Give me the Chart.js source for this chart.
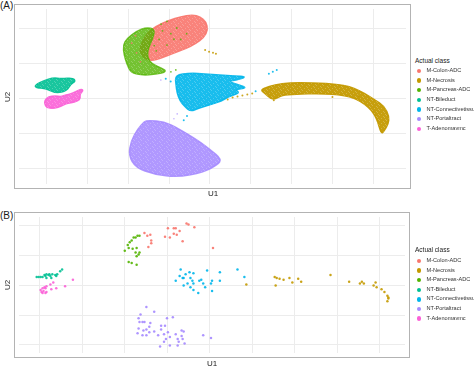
<!DOCTYPE html>
<html><head><meta charset="utf-8">
<script src="https://cdn.jsdelivr.net/npm/chart.js@4.4.0/dist/chart.umd.min.js"></script>
<style>
html,body{margin:0;padding:0;background:#fff;}
body{width:474px;height:366px;position:relative;overflow:hidden;font-family:"Liberation Sans",Arial,sans-serif;}
.wrap{position:absolute;}
.frame{position:absolute;border:1px solid #b3b3b3;box-sizing:border-box;pointer-events:none;}
.lbl{position:absolute;color:#1a1a1a;white-space:nowrap;line-height:1;}
.leg{position:absolute;white-space:nowrap;line-height:1;color:#333;}
.dot{position:absolute;border-radius:50%;}
</style></head><body>
<script>
// ---------- categories & colours ----------
const classes = ['M-Colon-ADC','M-Necrosis','M-Pancreas-ADC','NT-Bileduct','NT-Connectivetissue-','NT-Portaltract','T-Adenomavmc'];
const classColors = ['#F8766D','#C49A00','#53B400','#00C094','#00B6EB','#A58AFF','#FB61D7'];
const legendTitle = 'Actual class';
const axisX = 'U1', axisY = 'U2';

// ---------- Panel A: dense UMAP clouds (outlines of each cloud) ----------
const aColonOutline = [[1.63,7.84],[2.23,9.19],[3.43,10.27],[4.99,11.08],[6.43,11.62],[7.87,11.9],[8.82,11.6],[9.54,10.9],[9.76,9.73],[9.28,8.65],[8.23,7.74],[7.03,7.06],[5.47,6.38],[4.03,5.71],[2.83,5.30],[1.87,5.71],[1.39,6.76]];
const aPancreasOutline = [[-0.15,8.51],[1.03,9.56],[2.23,10.1],[3.27,9.83],[3.03,8.51],[2.45,7.16],[2.33,5.81],[2.93,4.86],[4.13,4.32],[4.73,3.78],[3.43,3.41],[1.63,3.28],[0.33,3.68],[-0.15,4.86],[-0.51,6.21],[-0.63,7.57]];
const aConnectiveOutline = [[5.73,3.34],[7.63,3.61],[9.42,3.48],[11.22,3.34],[13.02,3.21],[14.56,3.07],[13.14,2.57],[12.18,2.43],[13.62,1.89],[14.56,1.49],[13.02,1.22],[13.72,0.81],[12.18,0.17],[11.46,-0.37],[10.02,-0.91],[8.58,-1.45],[7.63,-1.86],[6.93,-1.18],[6.33,-0.37],[5.97,0.81],[5.85,1.89]];
const aNecrosisOutline = [[16.16,1.22],[17.22,1.72],[18.78,2.13],[20.81,2.26],[24.41,2.13],[26.45,1.86],[27.65,1.45],[28.85,0.78],[30.15,-0.17],[31.35,-1.12],[31.95,-2.57],[31.83,-3.65],[31.35,-4.56],[31.01,-5.06],[30.67,-3.92],[30.43,-2.97],[29.83,-1.72],[28.87,-0.78],[27.91,-0.1],[26.45,0.44],[23.57,0.71],[20.45,0.58],[18.78,0.44],[18.06,-0.1],[17.46,-0.1],[16.76,0.68]];
const aPortalOutline = [[1.99,-3.28],[2.47,-3.14],[4.39,-3.28],[6.07,-4.22],[8.56,-5.98],[10.12,-7.33],[11.42,-8.65],[10.96,-9.42],[9.18,-10.50],[6.07,-11.2],[3.19,-10.8],[0.93,-9.83],[0.05,-8.11],[0.33,-6.08],[1.17,-4.32]];
const aBileductOutline = [[-11.42,1.89],[-10.36,2.53],[-9.16,2.94],[-8.20,2.80],[-6.76,2.94],[-6.42,2.43],[-7.02,2.03],[-7.50,1.08],[-8.80,0.71],[-10.00,1.39],[-11.30,1.52]];
const aAdenomaOutline = [[-10.22,-0.27],[-9.76,0.24],[-8.92,0.37],[-8.20,0.24],[-7.60,0.51],[-7.00,0.64],[-6.52,0.91],[-5.80,1.32],[-5.46,1.18],[-5.94,0.54],[-5.82,0],[-6.16,-0.37],[-7.00,-0.64],[-7.72,-0.78],[-8.20,-1.18],[-9.16,-1.45],[-9.98,-1.32],[-10.22,-0.81]];
// scattered cells outside / inside the main clouds
const aPancreasCells = [[4.03,10.54],[4.75,10.94],[5.23,9.19],[5.95,10.0],[3.79,8.38],[4.75,7.57],[6.43,8.38],[7.15,9.19],[3.43,6.76],[5.83,4.05],[5.23,3.78],[3.2,7.5],[4.2,9.6],[5.6,8.4]];
const aColonCells = [[0.43,7.84],[1.03,6.48],[0.9,8.9],[1.5,5.2]];
const aNecrosisCells = [[9.42,6.89],[9.90,6.62],[10.38,6.48],[10.74,6.35],[12.18,-0.14],[12.78,0.14],[13.38,0.27],[13.98,0.41],[14.58,0.54],[15.18,0.68],[17.82,-0.27],[28.2,0.3],[25.0,0.2]];
const aConnectiveCells = [[17.22,3.51],[17.70,3.78],[18.18,4.05],[4.6,2.8],[5.2,2.4],[15.6,1.0],[7.2,-2.5],[6.8,-3.1]];
const aPortalCells = [[4.0,2.6],[6.0,-2.2],[5.6,-2.9]];

// ---------- Panel B: individual samples ----------
const bColon = [[7.28,10.41],[7.51,10.25],[8.20,9.78],[5.09,9.62],[5.78,9.62],[6.01,9.62],[4.75,8.20],[5.32,8.04],[5.78,8.67],[6.47,9.15],[6.13,8.52],[6.82,7.41],[10.39,6.31],[2.33,8.83],[3.02,8.52],[2.67,8.36],[3.13,7.57],[3.13,7.10],[2.79,6.47]];
const bNecrosis = [[14.31,0.16],[17.65,1.42],[17.88,1.26],[18.22,1.10],[18.69,0.95],[19.38,1.26],[19.72,0.47],[17.76,0],[20.41,1.10],[20.76,0.63],[24.21,1.73],[26.40,0.63],[27.67,0.32],[27.90,0.63],[28.13,0.32],[29.28,0],[29.51,0.47],[29.63,-0.32],[30.21,-0.63],[30.55,-1.10],[30.90,-1.73],[31.01,-2.21],[30.90,-2.68],[31.01,-2.05]];
const bPancreas = [[1.52,8.36],[1.75,8.36],[1.29,8.04],[1.06,8.04],[0.83,7.57],[0.60,7.25],[0.37,6.78],[0.02,5.83],[0.48,6.31],[0.94,6.15],[1.41,6.31],[1.29,5.52],[1.64,5.20],[1.75,5.52],[1.41,4.89],[0.48,3.94],[0.83,3.78],[1.41,3.47]];
const bBileduct = [[-10.34,1.42],[-10.11,1.42],[-9.88,1.42],[-9.65,1.42],[-9.31,1.58],[-9.19,1.89],[-8.96,1.73],[-8.73,1.58],[-8.50,1.89],[-8.16,1.73],[-8.04,1.58],[-7.93,1.89],[-7.58,2.37],[-7.35,2.68],[-8.62,1.26],[-9.19,1.26],[-9.42,1.73],[-8.85,1.89]];
const bConnective = [[6.59,2.68],[6.01,0.79],[6.47,1.58],[6.94,1.26],[7.17,1.89],[7.63,2.21],[8.09,2.05],[7.74,1.26],[7.97,0.79],[6.94,0],[7.40,0.32],[7.74,-0.32],[8.09,-0.79],[8.66,-1.26],[8.78,0.79],[9.01,0.95],[9.24,0.32],[9.47,-0.32],[9.70,2.52],[10.28,0.79],[10.16,0.32],[10.28,-0.95],[11.20,2.21],[11.20,0.79],[13.27,2.68],[14.08,1.42],[8.09,0.32],[6.82,1.26]];
const bPortal = [[2.56,-3.63],[3.48,-4.42],[1.87,-4.89],[1.64,-5.52],[2.10,-6.15],[1.75,-6.15],[2.33,-6.15],[3.02,-6.31],[2.90,-6.94],[1.64,-7.25],[2.21,-7.57],[2.56,-7.41],[2.10,-8.36],[2.56,-8.36],[2.90,-7.89],[1.52,-8.04],[4.29,-6.78],[4.75,-6.78],[4.98,-5.52],[5.67,-5.36],[4.29,-7.41],[4.63,-8.20],[5.09,-7.89],[5.32,-8.67],[4.86,-8.99],[4.63,-9.46],[4.17,-10.25],[5.32,-10.09],[6.01,-8.20],[6.24,-8.99],[6.36,-9.46],[6.70,-8.52],[6.94,-7.73],[6.70,-7.57],[6.82,-8.99],[7.05,-9.78],[6.24,-10.09],[9.24,-8.36],[10.16,-8.83],[3.94,-8.36],[3.48,-7.73]];
const bAdenoma = [[-9.88,-0.79],[-9.77,-1.10],[-9.54,-0.95],[-9.31,-0.47],[-9.19,-1.10],[-9.42,-0.32],[-9.65,-0.47],[-9.19,-0.16],[-8.73,0.16],[-8.39,0.47],[-8.62,-0.63],[-8.04,-0.47],[-7.00,-0.16],[-6.08,0.95],[-9.65,-1.26],[-9.31,-1.26]];
</script>

<div class="lbl" style="left:0px;top:1px;font-size:10px">(A)</div>
<div class="lbl" style="left:0px;top:211px;font-size:10px">(B)</div>

<div class="wrap" style="left:15px;top:5px;width:395px;height:183px"><canvas id="cA" width="395" height="183"></canvas></div>
<div class="frame" style="left:14px;top:4px;width:397px;height:185px"></div>
<div class="wrap" style="left:15px;top:213px;width:394px;height:144px"><canvas id="cB" width="394" height="144"></canvas></div>
<div class="frame" style="left:14px;top:212px;width:396px;height:146px"></div>

<div id="labels"></div>
<script>
function toXY(arr){ return arr.map(p => ({x:p[0], y:p[1]})); }

const lab = document.getElementById('labels');
function addText(txt, css){ const d=document.createElement('div'); d.className='lbl'; d.textContent=txt; d.style.cssText=css; lab.appendChild(d); return d; }
addText(axisX, 'left:208px;top:190px;font-size:8px;');
addText(axisX, 'left:207px;top:360px;font-size:8px;');
addText(axisY, 'left:3px;top:93px;font-size:8px;transform:rotate(-90deg);');
addText(axisY, 'left:3px;top:281px;font-size:8px;transform:rotate(-90deg);');

function legend(titleTop, firstCenter, step){
  const t=document.createElement('div'); t.className='leg'; t.textContent=legendTitle;
  t.style.cssText='left:415px;top:'+titleTop+'px;font-size:6.5px;color:#222;'; lab.appendChild(t);
  classes.forEach((c,i)=>{
    const cy = firstCenter + i*step;
    const d=document.createElement('div'); d.className='dot';
    d.style.cssText='left:'+(419.3-2.2)+'px;top:'+(cy-2.2)+'px;width:4.4px;height:4.4px;background:'+classColors[i]+';';
    lab.appendChild(d);
    const s=document.createElement('div'); s.className='leg'; s.textContent=c;
    s.style.cssText='left:426.5px;top:'+(cy-3)+'px;font-size:5.6px;';
    lab.appendChild(s);
  });
}
legend(57.5, 71, 9.65);
legend(246.5, 261, 9.6);

// speckle tile (fixed design) to mimic the grain of thousands of overlapping cells
function speckleTile(){
  const c=document.createElement('canvas'); c.width=7; c.height=5;
  const g=c.getContext('2d'); g.fillStyle='rgba(255,255,255,0.22)';
  [[0,0],[4,1],[2,3],[6,4],[5,2]].forEach(p=>g.fillRect(p[0],p[1],1,1));
  return c;
}
const tile = speckleTile();

const cloudPlugin = {
  id:'cloud',
  beforeDatasetsDraw(chart){
    const ctx=chart.ctx, a=chart.chartArea;
    const pat = ctx.createPattern(tile,'repeat');
    ctx.save();
    ctx.beginPath(); ctx.rect(a.left,a.top,a.width,a.height); ctx.clip();
    chart.data.datasets.forEach((ds,i)=>{
      if(!ds.cloud) return;
      const pts=chart.getDatasetMeta(i).data; const n=pts.length;
      const mid=(p,q)=>({x:(p.x+q.x)/2,y:(p.y+q.y)/2});
      ctx.beginPath();
      const m0=mid(pts[n-1],pts[0]); ctx.moveTo(m0.x,m0.y);
      for(let j=0;j<n;j++){ const p=pts[j], q=pts[(j+1)%n], m=mid(p,q); ctx.quadraticCurveTo(p.x,p.y,m.x,m.y); }
      ctx.closePath();
      ctx.globalAlpha = ds.cloudAlpha || 0.9;
      ctx.fillStyle=ds.cloudColor; ctx.fill();
      ctx.lineJoin='round'; ctx.lineWidth=1.4; ctx.strokeStyle=ds.cloudColor; ctx.stroke();
      ctx.globalAlpha=1;
      ctx.fillStyle=pat; ctx.fill();
    });
    ctx.restore();
  }
};

function scaleCfg(min,max){
  return {type:'linear',min:min,max:max,
    ticks:{display:false,stepSize:5,includeBounds:false},
    grid:{color:'#ececec',lineWidth:1,drawTicks:false},
    border:{display:false}};
}
const baseOpts = (xmin,xmax,ymin,ymax)=>({
  responsive:false, animation:false, maintainAspectRatio:false,
  layout:{padding:0},
  plugins:{legend:{display:false},tooltip:{enabled:false}},
  scales:{x:scaleCfg(xmin,xmax), y:scaleCfg(ymin,ymax)}
});

function cloudDs(outline, ci, alpha){
  return {data:toXY(outline), cloud:true, cloudColor:classColors[ci], cloudAlpha:alpha, pointRadius:0, showLine:false};
}
function cellDs(arr, ci, r, alpha){
  const col = classColors[ci] + (alpha ? alpha : '');
  return {data:toXY(arr), backgroundColor:col, borderWidth:0, pointRadius:r, showLine:false};
}

new Chart(document.getElementById('cA'), {
  type:'scatter',
  data:{datasets:[
    cloudDs(aColonOutline,0,0.9),
    cloudDs(aPancreasOutline,2,0.8),
    cloudDs(aConnectiveOutline,4,0.9),
    cloudDs(aNecrosisOutline,1,0.95),
    cloudDs(aPortalOutline,5,0.88),
    cloudDs(aBileductOutline,3,0.9),
    cloudDs(aAdenomaOutline,6,0.9),
    cellDs(aPancreasCells,2,0.9,'cc'),
    cellDs(aColonCells,0,0.9,'cc'),
    cellDs(aNecrosisCells,1,1.0,'dd'),
    cellDs(aConnectiveCells,4,1.0,'dd'),
    cellDs(aPortalCells,5,0.8,'aa')
  ]},
  options:baseOpts(-13.36,34.0,-12.16,12.7),
  plugins:[cloudPlugin]
});

new Chart(document.getElementById('cB'), {
  type:'scatter',
  data:{datasets:[
    cellDs(bColon,0,1.25,'e6'), cellDs(bNecrosis,1,1.25,'e6'), cellDs(bPancreas,2,1.25,'e6'), cellDs(bBileduct,3,1.25,'e6'),
    cellDs(bConnective,4,1.25,'e6'), cellDs(bPortal,5,1.25,'e6'), cellDs(bAdenoma,6,1.25,'e6')
  ]},
  options:baseOpts(-12.42,32.97,-11.36,11.5)
});
</script>
</body></html>
